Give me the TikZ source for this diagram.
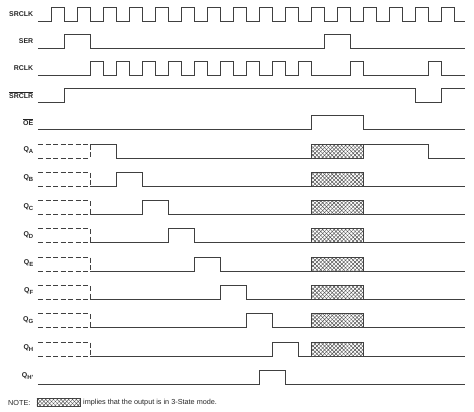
\documentclass[tikz,border=0pt]{standalone}
\usepackage{fontspec}
\setmainfont{Liberation Sans}
\usetikzlibrary{patterns.meta}

\def\tend{32.85}
\def\qsep{28.3}
\newcommand{\qsub}[1]{\raisebox{-2bp}{\fontsize{6}{6}\selectfont#1}}

\begin{document}
\begin{tikzpicture}[x=13bp,y=-1bp]
    \tikzstyle{sig}=[draw=black!75,line width=0.9bp]
    \tikzstyle{unknown}=[sig,dash pattern=on 5bp off 2.5bp]
    \tikzstyle{tristate}=[sig,
        pattern={Lines[angle=45,distance=2.7bp,line width=0.45bp]},pattern color=black!70,
        postaction={pattern={Lines[angle=-45,distance=2.7bp,line width=0.45bp]},pattern color=black!70}]
    \tikzstyle{lbl}=[anchor=east,inner sep=0pt,text=black!85,
        font=\fontsize{7}{8}\selectfont\bfseries]
    \tikzstyle{note}=[anchor=west,inner sep=0pt,text=black!85,
        font=\fontsize{7.3}{8}\selectfont]

    \useasboundingbox (-2.923,0) rectangle (33.538,411);

    % Clock and control inputs
    \node[lbl] (srclk) at (-0.35,14) {SRCLK};
    \draw[sig] (0,21) \foreach \k in {0,...,15} { -| ({2*\k+1},7) -| ({2*\k+2},21) } -- (\tend,21);

    \node[lbl] (ser) at (-0.35,41) {SER};
    \draw[sig] (0,48) -| (2,34) -| (4,48) -| (22,34) -| (24,48) -- (\tend,48);

    \node[lbl] (rclk) at (-0.35,68) {RCLK};
    \draw[sig] (0,75) \foreach \k in {2,...,10} { -| ({2*\k},61) -| ({2*\k+1},75) }
        -| (24,61) -| (25,75) -| (30,61) -| (31,75) -- (\tend,75);

    \node[lbl] (srclr) at (-0.35,95) {$\overline{\hbox{SRCLR}}$};
    \draw[sig] (0,102) -| (2,88) -| (29,102) -| (31,88) -- (\tend,88);

    \node[lbl] (oe) at (-0.35,122) {$\overline{\hbox{OE}}$};
    \draw[sig] (0,129) -| (21,115.5) -| (25,129) -- (\tend,129);

    % Output Q_A, high after the first RCLK edge
    \node[lbl] (qA) at (-0.35,150) {Q\qsub{A}};
    \draw[unknown] (0,144) -- (4,144) -- (4,158) (0,158) -- (4,158);
    \draw[sig] (4,144) -| (6,158) -- (21,158);
    \draw[sig] (25,144) -| (30,158) -- (\tend,158);
    \draw[tristate] (21,144) rectangle (25,158);

    % Outputs Q_B to Q_H
    \foreach \q/\k in {B/2,C/3,D/4,E/5,F/6,G/7,H/8} {
        \pgfmathsetmacro{\ly}{158+\qsep*(\k-1)}
        \node[lbl] (q\q) at (-0.35,\ly-8) {Q\qsub{\q}};
        \draw[unknown] (0,\ly-14) -- (4,\ly-14) -- (4,\ly) (0,\ly) -- (4,\ly);
        \draw[sig] (4,\ly) -| ({2*\k+2},\ly-14) -| ({2*\k+4},\ly) -- (21,\ly);
        \draw[sig] (25,\ly) -- (\tend,\ly);
        \draw[tristate] (21,\ly-14) rectangle (25,\ly);
    }

    % Serial output Q_H'
    \node[lbl] (qHp) at (-0.35,376.5) {Q\qsub{H'}};
    \draw[sig] (0,384.4) -| (17,370.4) -| (19,384.4) -- (\tend,384.4);

    % Note
    \node[note] (notehd) at (-2.31,402.5) {NOTE:};
    \draw[tristate] (-0.08,398.5) rectangle (3.23,406);
    \node[note] (notetxt) at (3.46,402.5) {implies that the output is in 3-State mode.};
\end{tikzpicture}
\end{document}
